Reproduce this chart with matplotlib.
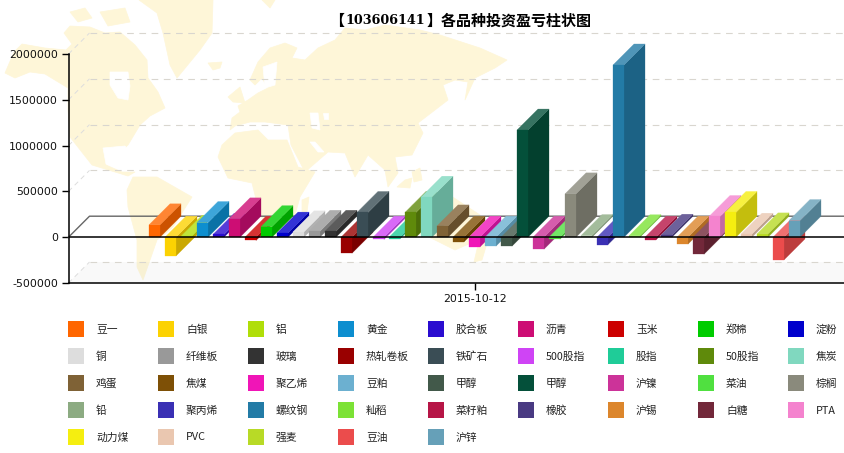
import matplotlib
matplotlib.use('Agg')
import matplotlib.pyplot as plt
from matplotlib.colors import to_rgb
from matplotlib.patches import Polygon, Rectangle

names = ['豆一', '白银', '铝', '黄金', '胶合板', '沥青', '玉米', '郑棉', '淀粉',
         '铜', '纤维板', '玻璃', '热轧卷板', '铁矿石', '500股指', '股指', '50股指', '焦炭',
         '鸡蛋', '焦煤', '聚乙烯', '豆粕', '甲醇', '甲醇', '沪镍', '菜油', '棕榈',
         '铅', '聚丙烯', '螺纹钢', '籼稻', '菜籽粕', '橡胶', '沪锡', '白糖', 'PTA',
         '动力煤', 'PVC', '强麦', '豆油', '沪锌']

values = [135000, -205000, 10000, 160000, 30000, 200000, -36000, 115000, 45000,
          58000, 65000, 65000, -175000, 270000, -25000, -18000, 270000, 437000,
          123000, -51000, -106000, -98000, -98000, 1170000, -131000, -22000, 473000,
          18000, -80000, 1880000, 16000, -29000, 22000, -76000, -186000, 226000,
          270000, 33000, 36000, -248000, 182000]

colors = ['#FF6600', '#FCD202', '#B0DE09', '#0D8ECF', '#2A0CD0', '#CD0D74', '#CC0000', '#00CC00', '#0000CC',
          '#DDDDDD', '#999999', '#333333', '#990000', '#3A4D55', '#CF44F5', '#1FCC98', '#5F8A0B', '#80D8BF',
          '#7F6236', '#7E5006', '#F015B7', '#6CB0D0', '#42594A', '#04503A', '#CC3399', '#50E040', '#8A8A7C',
          '#8CAB82', '#3A30B4', '#237BA6', '#7CE236', '#B61546', '#493A82', '#DC862C', '#72283A', '#F483CE',
          '#F5EE10', '#EAC7B0', '#B8DA26', '#EB4C4C', '#66A0B8']

y_ticks = [-500000, 0, 500000, 1000000, 1500000, 2000000]
date_label = '2015-10-12'

# rough world map behind the plot, in pixels
land = [
    [(5,73),(14,52),(22,44),(45,48),(66,50),(72,44),(64,33),(70,26),(90,27),(105,33),(120,32),(135,45),
     (147,60),(148,78),(158,92),(165,108),(150,116),(140,125),(128,145),(120,152),(110,148),(104,152),
     (106,165),(122,172),(135,172),(128,176),(115,172),(92,165),(70,137),(68,110),(68,88),(45,74),(30,72),(15,78)],
    [(70,12),(85,8),(92,18),(78,22)],
    [(100,12),(125,8),(130,22),(108,26)],
    [(139,0),(213,0),(212,33),(200,50),(177,78),(170,65),(163,33),(157,13)],
    [(208,63),(222,62),(220,68),(213,70)],
    [(228,97),(240,87),(245,103),(233,102)],
    [(262,0),(275,0),(270,8)],
    [(127,190),(133,177),(157,177),(192,197),(173,227),(157,240),(143,280),(137,267),(137,240),(128,207)],
    [(230,130),(232,118),(240,112),(238,106),(248,100),(258,93),(268,88),(262,78),(255,85),(250,80),(258,62),
     (270,48),(285,43),(297,48),(292,58),(305,60),(318,48),(335,40),(345,28),(365,30),(385,25),(420,30),
     (440,35),(480,48),(507,60),(495,68),(475,78),(465,100),(468,82),(455,80),(443,85),(448,100),(435,110),
     (418,123),(423,133),(412,155),(395,157),(398,173),(388,187),(385,170),(368,155),(355,177),(345,153),
     (328,152),(305,172),(291,145),(288,125),(265,122),(250,122),(235,126)],
    [(218,157),(222,145),(235,133),(258,130),(268,140),(287,140),(298,167),(315,172),(300,197),(295,215),
     (280,235),(268,235),(258,207),(252,183),(228,178)],
    [(302,200),(309,197),(307,212),(302,213)],
    [(397,187),(405,180),(412,178),(410,188)],
    [(412,172),(420,168),(422,180),(414,182)],
    [(412,205),(445,192),(480,215),(478,240),(455,250),(425,235),(410,232)],
    [(478,245),(488,240),(482,260),(474,262)],
]
# inland seas cut out of the land shapes
seas = [
    [(110,72),(128,72),(130,86),(128,100),(118,98),(110,85)],
    [(103,148),(125,146),(135,160),(122,166),(106,164)],
    [(263,67),(277,62),(275,85),(265,88)],
    [(310,113),(318,113),(320,130),(312,128)],
    [(323,113),(328,113),(328,119),(324,119)],
    [(310,142),(315,142),(324,152),(318,152)],
]

fig = plt.figure(figsize=(8.44, 4.53), dpi=100, facecolor='white')
cjk = ['Noto Sans CJK SC', 'DejaVu Sans']

bg = fig.add_axes([0, 0, 1, 1], zorder=0)
bg.set_xlim(0, 844)
bg.set_ylim(453, 0)
bg.axis('off')
for shape in land:
    bg.add_patch(Polygon(shape, closed=True, fc='#FEF6D8', ec='#FEF6D8', lw=0.5))
for shape in seas:
    bg.add_patch(Polygon(shape, closed=True, fc='white', ec='white', lw=0.5))

# title is three pieces because the digits use a wider serif
bg.text(329, 21, '【', fontsize=10.8, fontweight='bold', family=cjk, va='center', ha='left')
bg.text(345, 21, '103606141', fontsize=9.2, fontweight='bold', family='DejaVu Serif', va='center', ha='left')
bg.text(427, 21, '】各品种投资盈亏柱状图', fontsize=10.8, fontweight='bold', family=cjk, va='center', ha='left')

# legend, 9 columns
for n, (name, color) in enumerate(zip(names, colors)):
    col = n % 9
    row = n // 9
    lx = 68 + 90 * col
    ly = 321 + 27 * row
    bg.add_patch(Rectangle((lx, ly), 16, 16, fc=color, ec='none'))
    bg.text(lx + 28, ly + 8.5, name, fontsize=7.75, family=cjk, color='#222222', va='center', ha='left')

ax = fig.add_axes([68.5 / 844, (453 - 283) / 453, (844 - 68.5) / 844, 229 / 453], zorder=1)
ax.patch.set_visible(False)
step = 16.0
first = 149.0
ax.set_xlim((68.5 - first) / step, (844 - first) / step)
ax.set_ylim(-500000, 2000000)

px_y = 2500000 / 229.0
dx = 21 / step
dy = 21 * px_y
bar_w = 11 / step
xmin, xmax = ax.get_xlim()

# floor and back wall
ax.add_patch(Polygon([(xmin, -500000), (xmin + dx, -500000 + dy), (xmax, -500000 + dy), (xmax, -500000)],
                     closed=True, fc='#888888', alpha=0.045, ec='none', zorder=1))
for t in y_ticks:
    if t == 0:
        ax.plot([xmin, xmin + dx, xmax], [0, dy, dy], color='#666666', lw=1, zorder=2, clip_on=False)
    else:
        ax.plot([xmin + dx, xmax], [t + dy, t + dy], color='#d9d6cf', lw=0.8, ls=(0, (6, 5)), zorder=2, clip_on=False)
        ax.plot([xmin, xmin + dx], [t, t + dy], color='#dddddd', lw=0.7, ls=(0, (5, 4)), zorder=2, clip_on=False)


def shade(color, k):
    r, g, b = to_rgb(color)
    if k > 1:
        return (r + (1 - r) * (k - 1), g + (1 - g) * (k - 1), b + (1 - b) * (k - 1))
    return (r * k, g * k, b * k)


# 3d columns, later series over earlier ones
for i, (v, color) in enumerate(zip(values, colors)):
    z = 3 + i
    x0, x1 = i, i + bar_w
    hi = max(v, 0)
    side = [(x1, 0), (x1 + dx, dy), (x1 + dx, v + dy), (x1, v)]
    top = [(x0, hi), (x1, hi), (x1 + dx, hi + dy), (x0 + dx, hi + dy)]
    front = [(x0, 0), (x1, 0), (x1, v), (x0, v)]
    ax.add_patch(Polygon(side, closed=True, fc=shade(color, 0.8), ec=shade(color, 0.8), lw=0.2, zorder=z, clip_on=False))
    ax.add_patch(Polygon(top, closed=True, fc=shade(color, 1.2), ec=shade(color, 1.2), lw=0.2, zorder=z, clip_on=False))
    ax.add_patch(Polygon(front, closed=True, fc=color, ec=color, lw=0.2, zorder=z, clip_on=False))

ax.axhline(0, color='black', lw=1.1, zorder=60)

for s in ['top', 'right']:
    ax.spines[s].set_visible(False)
for s in ['left', 'bottom']:
    ax.spines[s].set_linewidth(1.1)
    ax.spines[s].set_zorder(61)

ax.set_yticks(y_ticks)
ax.set_yticklabels([str(t) for t in y_ticks], fontsize=7.95, color='#111111')
ax.tick_params(axis='y', length=5, width=1, pad=2.5)
ax.set_xticks([(len(names) * step - 5) / 2 / step])
ax.set_xticklabels([date_label], fontsize=7.95, color='#111111')
ax.tick_params(axis='x', length=5, width=1, pad=3)

fig.savefig('out.png', dpi=100)
